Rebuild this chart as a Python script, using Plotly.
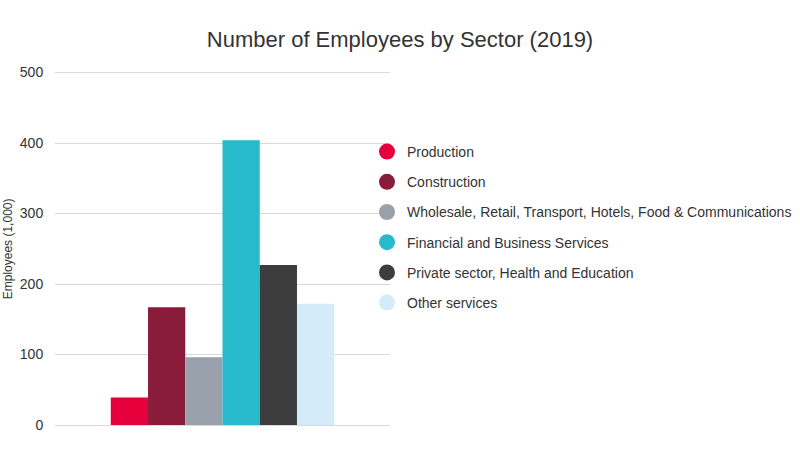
import plotly.graph_objects as go

# data
year = ["2019"]
sectors = [
    "Production",
    "Construction",
    "Wholesale, Retail, Transport, Hotels, Food & Communications",
    "Financial and Business Services",
    "Private sector, Health and Education",
    "Other services",
]
employees = [39, 167, 96, 404, 227, 172]
colours = ["#e5003c", "#8a1c3b", "#9aa0ab", "#28b9cd", "#3d3d3d", "#d4ebfa"]
y_ticks = [0, 100, 200, 300, 400, 500]

fig = go.Figure()
for i, (name, val, col) in enumerate(zip(sectors, employees, colours)):
    fig.add_trace(go.Bar(x=year, y=[val], name=name, marker_color=col,
                         marker_line_width=0, showlegend=False, legendgroup=str(i)))
    # legend entry drawn as a circle
    fig.add_trace(go.Scatter(x=[None], y=[None], mode="markers", name=name,
                             marker=dict(symbol="circle", size=16, color=col),
                             legendgroup=str(i)))

fig.update_layout(
    width=800, height=450,
    paper_bgcolor="white", plot_bgcolor="white",
    font=dict(family="Liberation Sans, Arial, sans-serif", color="#333333", size=14),
    title=dict(text="Number of Employees by Sector (2019)", x=0.5, xref="container",
               y=1 - 39 / 450, yanchor="middle", font=dict(size=22, color="#333333")),
    barmode="group", bargap=0.333, bargroupgap=0,
    margin=dict(l=55, r=410, t=68.5, b=25, autoexpand=False),
    legend=dict(xref="container", yref="container", x=367 / 800, xanchor="left",
                y=1 - 136 / 450, yanchor="top", tracegroupgap=9,
                font=dict(size=14, color="#333333"), itemsizing="trace",
                bgcolor="rgba(0,0,0,0)"),
)
# y axis title as an annotation (axis title gets dropped with autoexpand off)
fig.add_annotation(text="Employees (1,000)", xref="paper", yref="paper",
                   x=(8 - 55) / 335, y=(425 - 249) / 356.5, textangle=-90,
                   showarrow=False, xanchor="center", yanchor="middle",
                   font=dict(size=12, color="#333333"))
fig.update_xaxes(showticklabels=False, showgrid=False, zeroline=False, showline=False)
fig.update_yaxes(range=[0, 505], tickvals=y_ticks, showgrid=True, gridcolor="#d9d9d9",
                 gridwidth=1, zeroline=True, zerolinecolor="#d9d9d9", zerolinewidth=1,
                 ticks="outside", ticklen=8, tickcolor="rgba(0,0,0,0)",
                 tickfont=dict(size=14, color="#333333"))

# page has a default body margin, drop it so the figure sits at the window corner
fig.write_html("out.html", config={"displayModeBar": False},
               post_script="document.body.style.margin='0';document.body.style.overflow='hidden';")
